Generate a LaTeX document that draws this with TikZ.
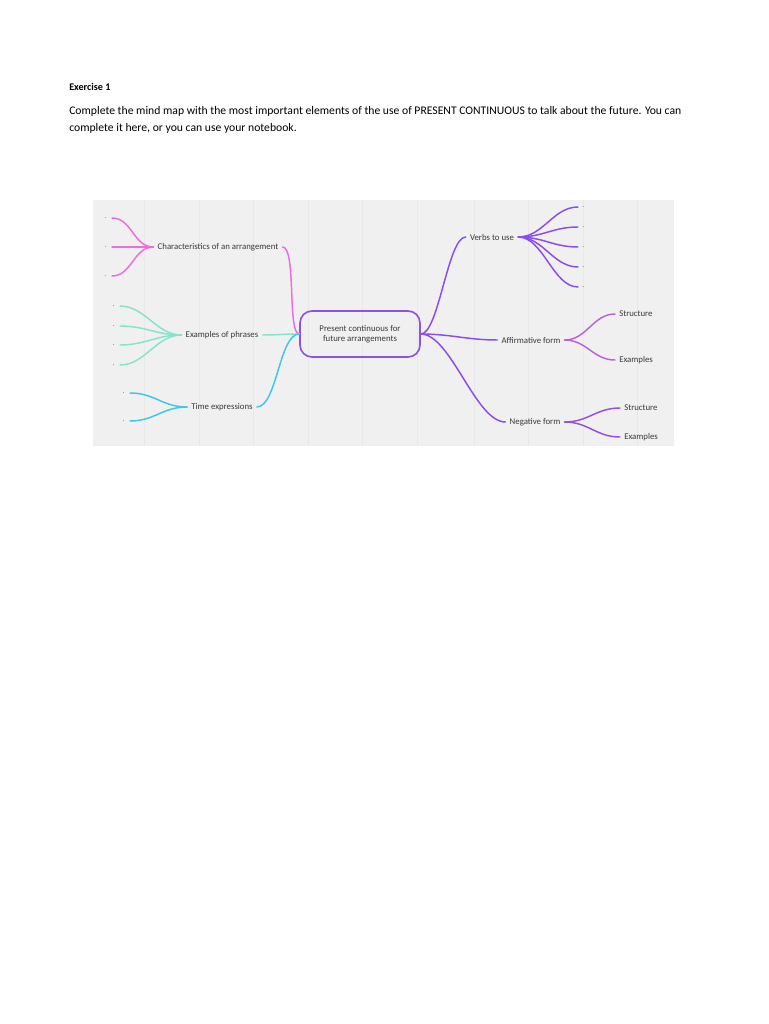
\documentclass[tikz,border=0pt]{standalone}
\usepackage{fontspec}
\setmainfont{Carlito}
\usetikzlibrary{positioning}

\definecolor{mapbg}{HTML}{F0F0F0}
\definecolor{mapgrid}{HTML}{E8E8E8}
\definecolor{pinkline}{HTML}{EE6CE0}
\definecolor{tealline}{HTML}{84E4CC}
\definecolor{cyanline}{HTML}{3EC6EE}
\definecolor{verbline}{HTML}{8A4CF0}
\definecolor{affline}{HTML}{B862E2}
\definecolor{negline}{HTML}{9450E6}
\definecolor{boxline}{HTML}{8E50E8}
\definecolor{labeltext}{HTML}{3A3A3A}

\begin{document}
\begin{tikzpicture}[x=0.75pt, y=-0.75pt,
      every node/.style = {font=\fontsize{6.6}{7.8}\selectfont, text=labeltext},
      topic/.style = {inner xsep=3pt, inner ysep=1pt},
      leafl/.style = {anchor=east, inner xsep=4pt, inner ysep=0pt, text=gray!80!black, font=\fontsize{5.5}{5.5}\selectfont},
      leafr/.style = {anchor=west, inner xsep=3pt, inner ysep=0pt, text=gray!80!black, font=\fontsize{5.5}{5.5}\selectfont},
      branch/.style = {line width=1.1pt, line cap=round},
      heading/.style = {anchor=base west, inner sep=0pt, text=black},
      centre/.style = {draw=boxline, line width=1.2pt, rounded corners=9pt,
        minimum width=90pt, minimum height=34.5pt, align=center}]
  \useasboundingbox (0,0) rectangle (768,1024);
  \fill[white] (0,0) rectangle (768,1024);

  % heading
  \node[heading, font=\fontsize{7.6}{8}\selectfont\bfseries] (title) at (69,90) {Exercise 1};
  \node[heading, font=\fontsize{8.75}{10}\selectfont] (line1) at (69,114)
    {Complete the mind map with the most important elements of the use of PRESENT CONTINUOUS to talk about the future. You can};
  \node[heading, font=\fontsize{8.75}{10}\selectfont] (line2) at (69,131)
    {complete it here, or you can use your notebook.};

  % map area
  \fill[mapbg] (93,200) rectangle (674,446);
  \foreach \gx in {144,199,253,308,362,417,474,528,583,637}
    \draw[mapgrid, line width=0.3pt] (\gx,200) -- (\gx,446);

  \node[centre] (main) at (360,334) {Present continuous for\\future arrangements};

  % left side
  \node[topic] (char) at (218,247) {Characteristics of an arrangement};
  \node[topic] (phr) at (222,335) {Examples of phrases};
  \node[topic] (time) at (222,407) {Time expressions};

  \draw[branch, pinkline] (main.west) .. controls +(-12,0) and +(14,0) .. (char.east);
  \draw[branch, tealline] (main.west) .. controls +(-15,0) and +(15,0) .. (phr.east);
  \draw[branch, cyanline] (main.west) .. controls +(-20,0) and +(20,0) .. (time.east);

  \node[leafl] (c1) at (112,218) {.};
  \node[leafl] (c2) at (112,247) {.};
  \node[leafl] (c3) at (112,276) {.};
  \foreach \n in {c1,c2,c3}
    \draw[branch, pinkline] (char.west) .. controls +(-20,0) and +(20,0) .. (\n.east);

  \node[leafl] (p1) at (120,306) {.};
  \node[leafl] (p2) at (120,326) {.};
  \node[leafl] (p3) at (120,345) {.};
  \node[leafl] (p4) at (120,365) {.};
  \foreach \n in {p1,p2,p3,p4}
    \draw[branch, tealline] (phr.west) .. controls +(-25,0) and +(25,0) .. (\n.east);

  \node[leafl] (t1) at (130,393) {.};
  \node[leafl] (t2) at (130,421) {.};
  \foreach \n in {t1,t2}
    \draw[branch, cyanline] (time.west) .. controls +(-25,0) and +(25,0) .. (\n.east);

  % right side
  \node[topic] (verbs) at (492,237) {Verbs to use};
  \node[topic] (aff) at (531,340) {Affirmative form};
  \node[topic] (neg) at (535,422) {Negative form};

  \draw[branch, verbline] (main.east) .. controls +(18,0) and +(-18,0) .. (verbs.west);
  \draw[branch, verbline] (main.east) .. controls +(30,0) and +(-30,0) .. (aff.west);
  \draw[branch, verbline] (main.east) .. controls +(30,0) and +(-30,0) .. (neg.west);

  \foreach \i/\vy in {1/207,2/227,3/247,4/267,5/287} {
    \node[leafr] (v\i) at (578,\vy) {.};
    \draw[branch, verbline] (verbs.east) .. controls +(25,0) and +(-25,0) .. (v\i.west);
  }

  \node[topic, anchor=west] (affs) at (615,314) {Structure};
  \node[topic, anchor=west] (affe) at (615,360) {Examples};
  \foreach \n in {affs,affe}
    \draw[branch, affline] (aff.east) .. controls +(22,0) and +(-22,0) .. (\n.west);

  \node[topic, anchor=west] (negs) at (620,408) {Structure};
  \node[topic, anchor=west] (nege) at (620,437) {Examples};
  \foreach \n in {negs,nege}
    \draw[branch, negline] (neg.east) .. controls +(24,0) and +(-24,0) .. (\n.west);
\end{tikzpicture}
\end{document}
